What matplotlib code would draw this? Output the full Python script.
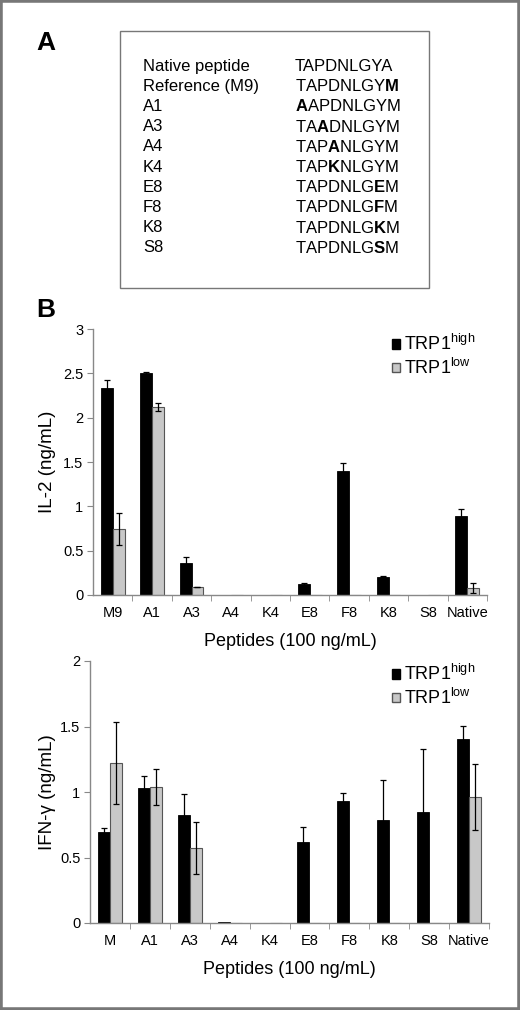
import numpy as np
import matplotlib
matplotlib.use("Agg")
import matplotlib.pyplot as plt
from matplotlib.patches import Rectangle, Patch

plt.rcParams["font.family"] = ["Liberation Sans", "DejaVu Sans"]
plt.rcParams["mathtext.fontset"] = "custom"
plt.rcParams["mathtext.rm"] = "Liberation Sans"
plt.rcParams["mathtext.bf"] = "Liberation Sans:bold"

# panel A table
peptide_names = ["Native peptide", "Reference (M9)", "A1", "A3", "A4", "K4", "E8", "F8", "K8", "S8"]
sequences = ["TAPDNLGYA", "TAPDNLGYM", "AAPDNLGYM", "TAADNLGYM", "TAPANLGYM",
             "TAPKNLGYM", "TAPDNLGEM", "TAPDNLGFM", "TAPDNLGKM", "TAPDNLGSM"]
bold_pos = [None, 8, 0, 2, 3, 3, 7, 7, 7, 7]

# panel B, IL-2
il2_labels = ["M9", "A1", "A3", "A4", "K4", "E8", "F8", "K8", "S8", "Native"]
il2_high = [2.34, 2.50, 0.365, 0, 0, 0.124, 1.40, 0.207, 0, 0.895]
il2_high_err = [0.08, 0.015, 0.06, 0, 0, 0.008, 0.09, 0.008, 0, 0.075]
il2_low = [0.74, 2.12, 0.09, 0, 0, 0, 0, 0, 0, 0.083]
il2_low_err = [0.18, 0.05, 0.003, 0, 0, 0, 0, 0, 0, 0.055]

# panel B, IFN-gamma
ifn_labels = ["M", "A1", "A3", "A4", "K4", "E8", "F8", "K8", "S8", "Native"]
ifn_high = [0.694, 1.032, 0.826, 0.01, 0, 0.615, 0.935, 0.783, 0.851, 1.403]
ifn_high_err = [0.035, 0.09, 0.16, 0, 0, 0.115, 0.056, 0.31, 0.48, 0.10]
ifn_low = [1.222, 1.039, 0.572, 0, 0, 0, 0, 0, 0, 0.963]
ifn_low_err = [0.31, 0.14, 0.20, 0, 0, 0, 0, 0, 0, 0.25]

W, H = 520, 1010
fig = plt.figure(figsize=(W / 100, H / 100), dpi=100)

def fx(px):
    return px / W

def fy(py):
    return 1 - py / H

# outer grey frame
fig.patches.append(Rectangle((0, 0), 1, 1, transform=fig.transFigure, fill=False,
                             edgecolor="#777777", linewidth=4))

# panel A
fig.text(fx(36), fy(43), "A", fontsize=19, fontweight="bold", va="center", ha="left")
fig.patches.append(Rectangle((fx(120), fy(288)), fx(429) - fx(120), fy(31) - fy(288),
                             transform=fig.transFigure, fill=False, edgecolor="#777777", linewidth=1))
for i, (name, seq, b) in enumerate(zip(peptide_names, sequences, bold_pos)):
    y = fy(66 + i * 20.2)
    fig.text(fx(143), y, name, fontsize=12, va="center", ha="left")
    if b is None:
        s = seq
    else:
        s = "$\\mathrm{" + seq[:b] + "}\\mathbf{" + seq[b] + "}\\mathrm{" + seq[b + 1:] + "}$"
    fig.text(fx(295), y, s, fontsize=12, va="center", ha="left")

fig.text(fx(36), fy(310), "B", fontsize=19, fontweight="bold", va="center", ha="left")


def bar_panel(rect, labels, high, high_err, low, low_err, ymax, ystep, ylabel, ylab_x, leg_y):
    ax = fig.add_axes(rect)
    x = np.arange(len(labels))
    w = 0.3
    ax.bar(x - w / 2, high, w, color="black", edgecolor="black", linewidth=0.6, zorder=2)
    ax.bar(x + w / 2, low, w, color="#c8c8c8", edgecolor="#555555", linewidth=0.8, zorder=2)
    for xs, vals, errs in [(x - w / 2, high, high_err), (x + w / 2, low, low_err)]:
        m = np.array(errs) > 0
        ax.errorbar(xs[m], np.array(vals)[m], yerr=np.array(errs)[m], fmt="none",
                    ecolor="black", elinewidth=0.9, capsize=2.5, capthick=0.9, zorder=3)
    ax.set_xlim(-0.5, len(labels) - 0.5)
    ax.set_ylim(0, ymax)
    ax.set_yticks(np.arange(0, ymax + 0.001, ystep))
    ax.set_yticklabels([f"{v:g}" for v in np.arange(0, ymax + 0.001, ystep)])
    ax.set_xticks(x)
    ax.set_xticklabels(labels)
    ax.set_xticks(np.arange(0.5, len(labels), 1), minor=True)
    ax.tick_params(axis="x", which="major", length=0, pad=8, labelsize=10.5)
    ax.tick_params(axis="x", which="minor", length=4, color="#888888", direction="out")
    ax.tick_params(axis="y", length=4, color="#888888", labelsize=10.5, pad=3)
    for s in ["top", "right"]:
        ax.spines[s].set_visible(False)
    for s in ["left", "bottom"]:
        ax.spines[s].set_color("#888888")
        ax.spines[s].set_linewidth(1)
    ax.set_xlabel("Peptides (100 ng/mL)", fontsize=13, labelpad=9)
    ax.set_ylabel(ylabel, fontsize=13.5)
    ax.yaxis.set_label_coords(ylab_x, 0.5)
    handles = [Patch(facecolor="black", edgecolor="black"),
               Patch(facecolor="#c8c8c8", edgecolor="#555555")]
    ax.legend(handles, ["TRP1$^{\\mathrm{high}}$", "TRP1$^{\\mathrm{low}}$"], frameon=False,
              loc="upper left", bbox_to_anchor=(fx(383), leg_y), bbox_transform=fig.transFigure,
              fontsize=13, handlelength=0.45, handleheight=0.45, handletextpad=0.2,
              labelspacing=0.2, borderpad=0)
    return ax


bar_panel([fx(93), fy(595), fx(487) - fx(93), fy(329) - fy(595)],
          il2_labels, il2_high, il2_high_err, il2_low, il2_low_err,
          3, 0.5, "IL-2 (ng/mL)", -0.093, fy(325))
bar_panel([fx(90), fy(923), fx(489) - fx(90), fy(661) - fy(923)],
          ifn_labels, ifn_high, ifn_high_err, ifn_low, ifn_low_err,
          2, 0.5, "IFN-\u03b3 (ng/mL)", -0.085, fy(655))

fig.savefig("out.png", dpi=100)
